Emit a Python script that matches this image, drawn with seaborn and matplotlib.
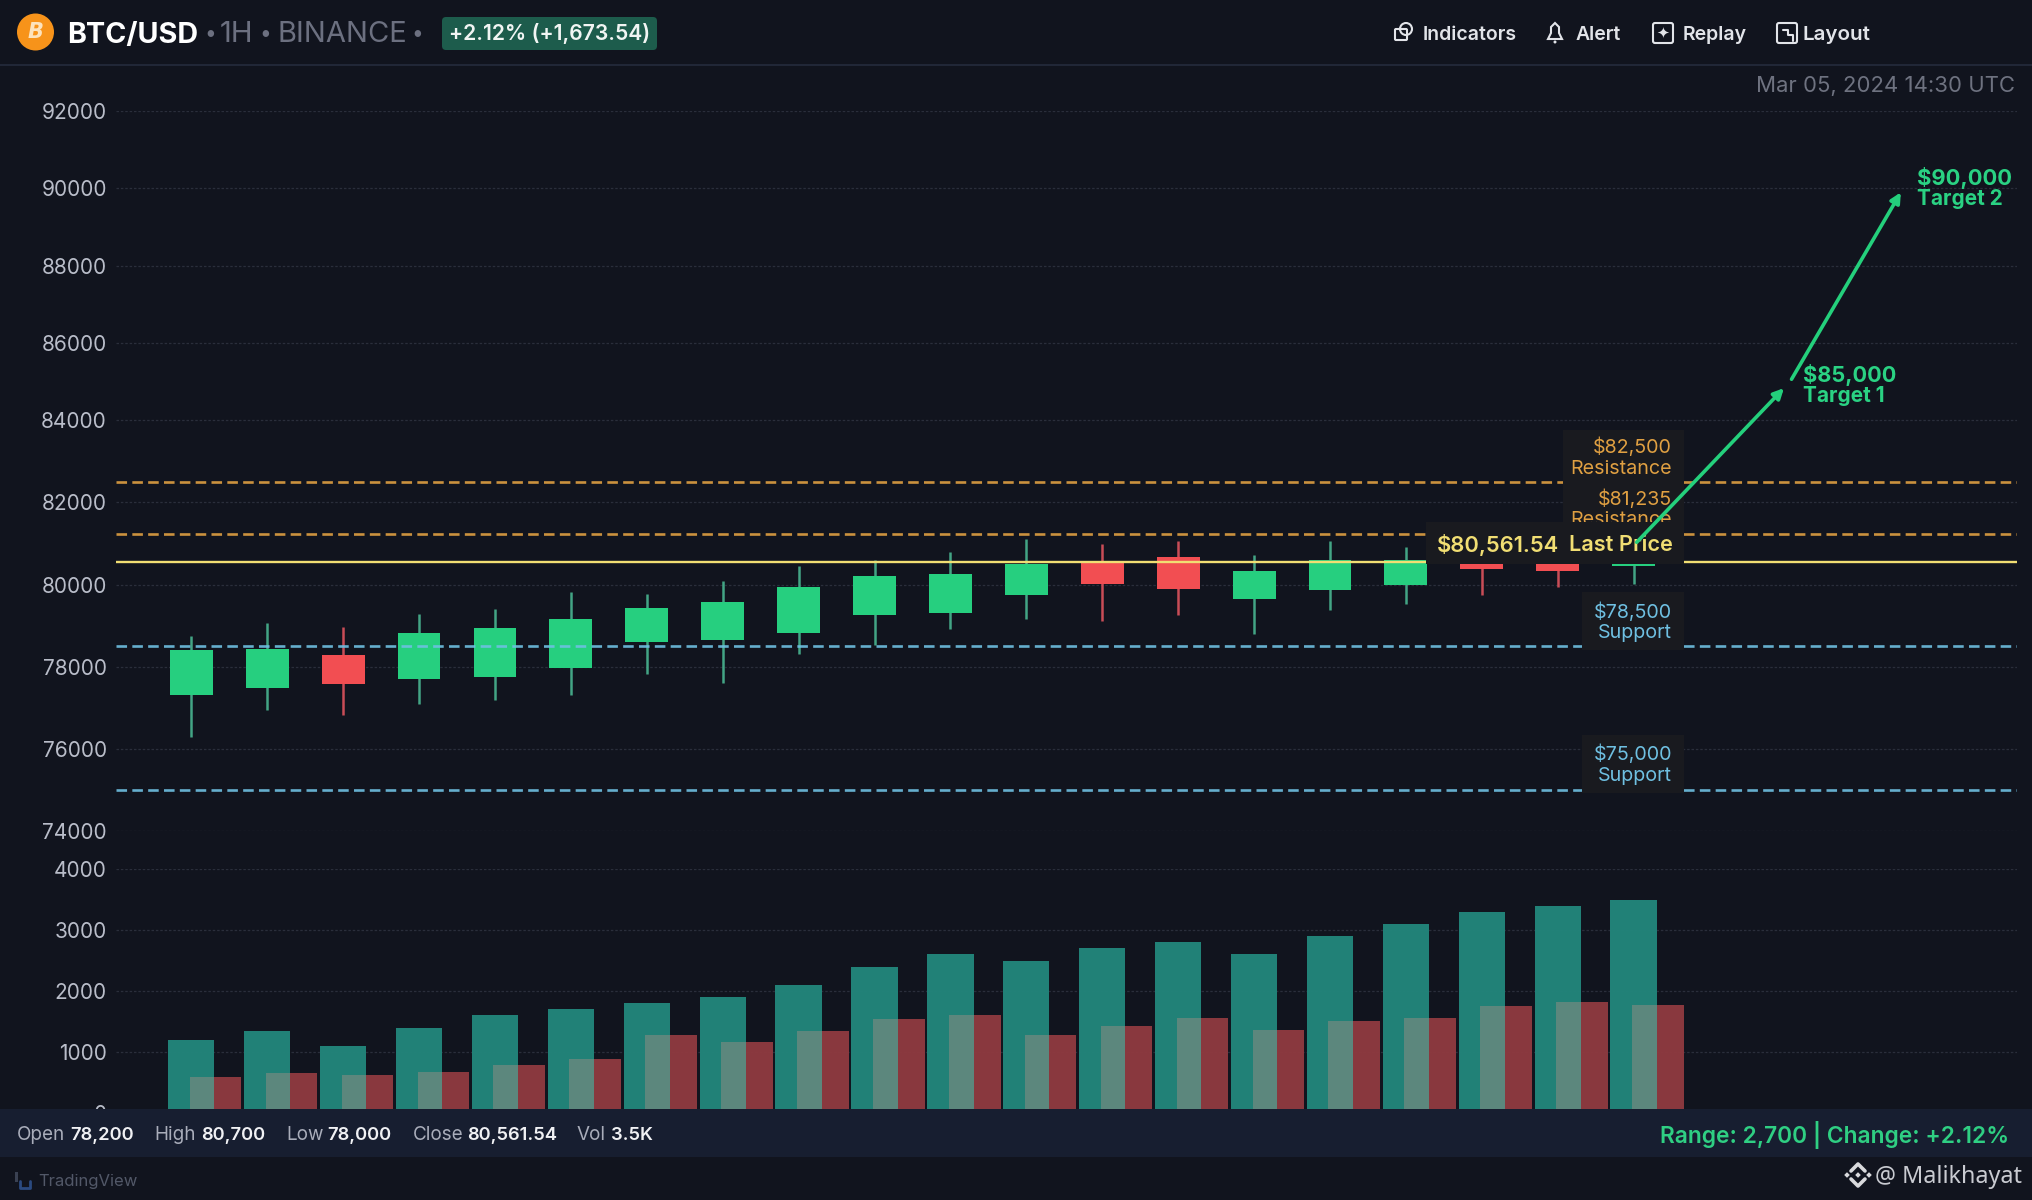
import numpy as np
import pandas as pd
import seaborn as sns
from matplotlib import pyplot as plt
from matplotlib import transforms
from matplotlib.patches import Circle, FancyBboxPatch, Polygon, Rectangle

W, H = 2032, 1200

# candles, oldest first
candle_idx = list(range(20))
candle_top = [78415, 78440, 78285, 78830, 78940, 79160, 79435, 79565, 79945, 80220,
              80270, 80490, 80515, 80680, 80325, 80590, 80610, 80530, 80515, 80490]
candle_bot = [77315, 77490, 77580, 77700, 77745, 77970, 78610, 78650, 78815, 79250,
              79320, 79740, 80010, 79900, 79650, 79880, 80000, 80370, 80325, 80455]
candle_high = [78750, 79060, 78960, 79280, 79395, 79820, 79760, 80080, 80450, 80590,
               80800, 81120, 81000, 81055, 80730, 81055, 80925, 80800, 80600, 80500]
candle_low = [76280, 76960, 76820, 77100, 77200, 77310, 77820, 77615, 78310, 78530,
              78915, 79175, 79110, 79270, 78800, 79370, 79535, 79755, 79930, 80025]
candle_dir = ['up', 'up', 'down', 'up', 'up', 'up', 'up', 'up', 'up', 'up',
              'up', 'up', 'down', 'down', 'up', 'up', 'up', 'down', 'down', 'up']

# volume pane
vol_up = [1200, 1350, 1100, 1400, 1600, 1700, 1800, 1900, 2100, 2400,
          2600, 2500, 2700, 2800, 2600, 2900, 3100, 3300, 3400, 3500]
vol_down = [585, 655, 630, 672, 795, 890, 1273, 1170, 1345, 1535,
            1600, 1280, 1420, 1560, 1360, 1515, 1565, 1755, 1825, 1770]

price_ticks = list(range(74000, 92001, 2000))
vol_ticks = [1000, 2000, 3000, 4000]

resistance_levels = [82500, 81235]
support_levels = [78500, 75000]
last_price = 80561.54

arrow_x = [19.04, 20.98, 21.08, 22.52]
arrow_y = [81030, 84830, 85060, 89900]

BG = '#11141e'
BAR = '#171e30'
GRID = '#2a2e3b'
GREEN = '#26cf7f'
GREEN_WICK = '#43a585'
RED = '#f24e52'
RED_WICK = '#c94d57'
ORANGE = '#e0a042'
BLUE = '#6fc0e2'
YELLOW = '#f1de73'
TARGET = '#2ad283'

sns.set_theme(style='dark', rc={'figure.facecolor': BG, 'axes.facecolor': BG, 'savefig.facecolor': BG})
plt.rcParams['font.family'] = ['Inter', 'DejaVu Sans']

fig = plt.figure(figsize=(W / 100, H / 100), dpi=100)
# pixel positions measured from the top left of the picture
px = transforms.Affine2D().scale(1, -1).translate(0, H)


def axes_box(left, top, right, bottom):
    return [left / W, 1 - bottom / H, (right - left) / W, (bottom - top) / H]


def price_forward(v):
    return np.interp(v, [74000, 84000, 92000], [0, 411, 720])


def price_inverse(p):
    return np.interp(p, [0, 411, 720], [74000, 84000, 92000])


ax = fig.add_axes(axes_box(116, 111.2, 2017, 831.2))
ax_vol = fig.add_axes(axes_box(116, 869, 2017, 1113))

df = pd.DataFrame({'idx': candle_idx, 'top': candle_top, 'bot': candle_bot,
                   'high': candle_high, 'low': candle_low, 'dir': candle_dir})
df['body'] = df['top'] - df['bot']

# wicks, then bodies
for name, wick, body in [('up', GREEN_WICK, GREEN), ('down', RED_WICK, RED)]:
    sub = df[df['dir'] == name]
    ax.vlines(sub['idx'], sub['low'], sub['high'], colors=wick, lw=1.8, zorder=2)
    sns.barplot(x=sub['idx'].to_numpy(), y=sub['body'].to_numpy(), bottom=sub['bot'].to_numpy(),
                native_scale=True, orient='x', width=0.565, color=body, saturation=1,
                linewidth=0, ax=ax, zorder=3)

ax.set_yscale('function', functions=(price_forward, price_inverse))

for level in resistance_levels:
    ax.axhline(level, color=ORANGE, lw=1.9, ls=(0, (4, 2)), alpha=0.9, zorder=4)
for level in support_levels:
    ax.axhline(level, color=BLUE, lw=1.9, ls=(0, (4, 2)), alpha=0.9, zorder=4)
ax.axhline(last_price, color=YELLOW, lw=1.7, zorder=4)

# volume bars, the pale strip is where the two series overlap
idx = np.array(candle_idx)
sns.barplot(x=idx, y=vol_up, native_scale=True, orient='x', width=0.61, color='#22857b',
            saturation=1, linewidth=0, alpha=0.97, ax=ax_vol, zorder=3)
sns.barplot(x=idx + 0.32, y=vol_down, native_scale=True, orient='x', width=0.68, color='#8e3a40',
            saturation=1, linewidth=0, alpha=0.97, ax=ax_vol, zorder=3)
sns.barplot(x=idx + 0.1425, y=np.minimum(vol_up, vol_down), native_scale=True, orient='x', width=0.325,
            color='#5c877d', saturation=1, linewidth=0, ax=ax_vol, zorder=3)

ax.set_ylim(74000, 92000)
ax.set_yticks(price_ticks)
ax.set_yticklabels([str(t) for t in price_ticks])
ax_vol.set_ylim(0, 4000)
ax_vol.set_yticks([0] + vol_ticks)
ax_vol.set_yticklabels(['0'] + [str(t) for t in vol_ticks])

for a in (ax, ax_vol):
    a.set_xlim(-0.992, 24.05)
    a.set_xticks([])
    a.set_xlabel('')
    a.set_ylabel('')
    a.set_facecolor('none')
    a.grid(axis='y', color=GRID, lw=0.9, ls=(0, (2, 1.5)))
    a.grid(axis='x', visible=False)
    a.set_axisbelow(True)
    a.tick_params(axis='y', length=0, pad=6.5, labelsize=15, labelcolor='#b9bdc9')
    sns.despine(ax=a, left=True, bottom=True)


def box(x0, y0, x1, y1, z):
    ax.add_patch(Rectangle((x0, y0), x1 - x0, y1 - y0, transform=px, fc='#191a1f', ec='none',
                           clip_on=False, zorder=z))


def label(x, y, s, color, size=14.2, weight='normal', ha='right', z=6):
    ax.text(x, y, s, transform=px, color=color, fontsize=size, fontweight=weight, ha=ha,
            va='center', clip_on=False, zorder=z)


# level tags
box(1563, 430, 1684, 492, 5)
label(1672, 447, '$82,500', ORANGE)
label(1672, 469, 'Resistance', ORANGE)
box(1563, 484, 1684, 540, 5)
label(1672, 499, '$81,235', ORANGE)
label(1672, 520, 'Resistance', ORANGE)
box(1426, 522, 1684, 563.5, 7)
label(1437, 545, '$80,561.54', YELLOW, size=15.8, weight='semibold', ha='left', z=8)
label(1673, 545, 'Last Price', YELLOW, size=15.6, weight='semibold', z=8)
box(1582, 592, 1684, 650, 5)
label(1672, 612, '$78,500', BLUE)
label(1672, 633, 'Support', BLUE)
box(1582, 735, 1684, 793, 5)
label(1672, 754, '$75,000', BLUE)
label(1672, 776, 'Support', BLUE)

# target arrows
for i in (0, 2):
    ax.annotate('', xy=(arrow_x[i + 1], arrow_y[i + 1]), xytext=(arrow_x[i], arrow_y[i]),
                arrowprops=dict(arrowstyle='-|>', color='#24d07c', lw=2.6, mutation_scale=15,
                                shrinkA=0, shrinkB=0),
                annotation_clip=False, zorder=9)
label(1917, 178, '$90,000', TARGET, size=15.8, weight='bold', ha='left')
label(1917, 199, 'Target 2', TARGET, size=15, weight='bold', ha='left')
label(1803, 375, '$85,000', TARGET, size=15.6, weight='bold', ha='left')
label(1803, 396, 'Target 1', TARGET, size=15, weight='bold', ha='left')

# header and footer chrome sits on top of both panes
ui = fig.add_axes([0, 0, 1, 1], zorder=5)
ui.set_xlim(0, W)
ui.set_ylim(H, 0)
ui.axis('off')
ui.patch.set_alpha(0)

ui.add_patch(Rectangle((0, 0), W, 64, fc=BG, ec='none'))
ui.add_line(plt.Line2D([0, W], [64.5, 64.5], color='#252c3d', lw=1.2))
ui.add_patch(Rectangle((0, 1109), W, 48, fc=BAR, ec='none'))
ui.add_patch(Rectangle((0, 1157), W, 43, fc=BG, ec='none'))


def ui_text(x, y, s, color, size, weight='normal', ha='left', family=None):
    kw = {'family': family} if family else {}
    ui.text(x, y, s, color=color, fontsize=size, fontweight=weight, ha=ha, va='center_baseline', **kw)


ui.add_patch(Circle((35.5, 32), 18.5, fc='#f7931a', ec='none'))
ui.text(35.5, 32, 'B', color='#fde3bd', fontsize=15, fontweight='bold', style='italic', ha='center',
        va='center', family='DejaVu Sans')
ui_text(67, 32, 'BTC/USD', 'white', 20.7, 'bold')
ui_text(204, 32, '•', '#6c7080', 15)
ui_text(220, 32, '1H', '#6c7080', 21)
ui_text(259, 32, '•', '#6c7080', 15)
ui_text(277, 32, 'BINANCE', '#6c7080', 21)
ui_text(411, 32, '•', '#6c7080', 15)
ui.add_patch(FancyBboxPatch((445, 20), 209, 27, boxstyle='round,pad=3,rounding_size=4', fc='#1d5c4c', ec='none'))
ui_text(549.5, 32, '+2.12% (+1,673.54)', '#f1f5f3', 15.2, 'semibold', ha='center')

for x, s, size in [(1423, 'Indicators', 14), (1576, 'Alert', 14), (1683, 'Replay', 14), (1803, 'Layout', 14.8)]:
    ui_text(x, 33, s, '#e2e4e9', size, 'semibold')

# toolbar icons
ui.add_patch(Circle((1406, 29), 6, fc='none', ec='#e2e4e9', lw=1.5))
ui.add_patch(FancyBboxPatch((1396, 30), 10, 9, boxstyle='round,pad=1', fc='none', ec='#e2e4e9', lw=1.5))
ui.add_patch(Polygon([[1548, 39], [1562, 39], [1559, 33], [1559, 27], [1555, 23], [1551, 27], [1551, 33]],
                     closed=True, fc='none', ec='#e2e4e9', lw=1.5))
ui.add_patch(Circle((1555, 42), 1.5, fc='#e2e4e9', ec='none'))
ui.add_patch(FancyBboxPatch((1655, 25), 16, 16, boxstyle='round,pad=2', fc='none', ec='#e2e4e9', lw=1.5))
ui.text(1663, 33, '✦', color='#e2e4e9', fontsize=11, ha='center', va='center', family='DejaVu Sans')
ui.add_patch(FancyBboxPatch((1779, 25), 16, 16, boxstyle='round,pad=2', fc='none', ec='#e2e4e9', lw=1.5))
ui.add_line(plt.Line2D([1783, 1788, 1788, 1793, 1793], [30, 30, 35, 35, 41], color='#e2e4e9', lw=1.5))

ui_text(2015, 84, 'Mar 05, 2024 14:30 UTC', '#6e7280', 15.9, ha='right')

for x, s in [(17, 'Open'), (154, 'High'), (286, 'Low'), (413, 'Close'), (577, 'Vol')]:
    ui_text(x, 1133, s, '#a9adba', 13.6)
for x, s in [(70.5, '78,200'), (201, '80,700'), (327, '78,000'), (467, '80,561.54'), (611, '3.5K')]:
    ui_text(x, 1133, s, '#f0f1f4', 13.2, 'semibold')
ui_text(2009, 1132, 'Range: 2,700 | Change: +2.12%', '#2fcf83', 16.4, 'semibold', ha='right')

ui_text(38, 1180, 'TradingView', '#525868', 12)
ui.add_patch(Rectangle((15, 1172), 3, 10, fc='#3a4152', ec='none'))
ui.add_line(plt.Line2D([20, 20, 30, 30], [1181, 1188, 1188, 1181], color='#2b4a80', lw=2))

# diamond mark next to the handle: two chevrons and three dots
cx, cy = 1858, 1175
for sign in (-1, 1):
    ui.add_line(plt.Line2D([cx - 7, cx, cx + 7], [cy + sign * 4, cy + sign * 11, cy + sign * 4],
                           color='#d9dadd', lw=2.6))
for dx in (-11, 0, 11):
    r = 2.8
    ui.add_patch(Polygon([[cx + dx, cy - r], [cx + dx + r, cy], [cx + dx, cy + r], [cx + dx - r, cy]],
                         closed=True, fc='#d9dadd', ec='none'))
ui_text(2022, 1174, '@ Malikhayat', '#c9cbd1', 16.8, ha='right', family='Noto Sans')

fig.savefig('out.png', dpi=100)
